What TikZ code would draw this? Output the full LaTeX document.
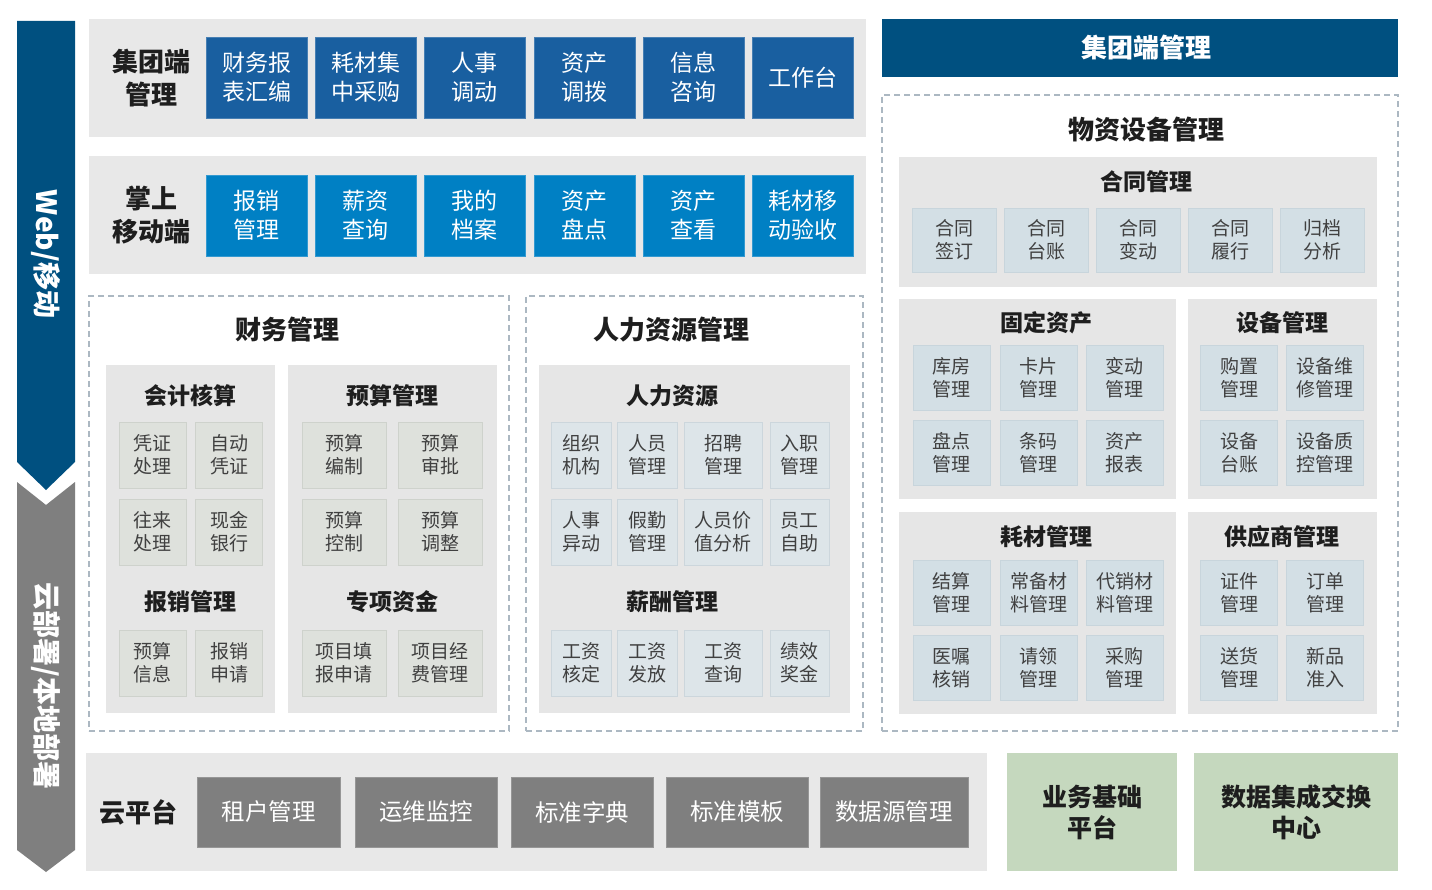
\documentclass[tikz,border=0pt]{standalone}
\usepackage{fontspec}
\setmainfont{Noto Sans CJK SC}
\definecolor{navyc}{RGB}{0,80,128}
\definecolor{blueAc}{RGB}{25,95,160}
\definecolor{blueBc}{RGB}{0,128,196}
\definecolor{bandc}{RGB}{232,232,232}
\definecolor{panelc}{RGB}{230,230,230}
\definecolor{fboxc}{RGB}{222,225,220}
\definecolor{fboxl}{RGB}{206,210,204}
\definecolor{hboxc}{RGB}{221,229,233}
\definecolor{hboxl}{RGB}{204,214,220}
\definecolor{rboxc}{RGB}{211,223,229}
\definecolor{rboxl}{RGB}{200,213,220}
\definecolor{dashc}{RGB}{172,184,194}
\definecolor{cloudc}{RGB}{127,127,127}
\definecolor{cloudl}{RGB}{150,150,150}
\definecolor{greenc}{RGB}{197,216,190}
\definecolor{txtc}{RGB}{30,30,30}
\definecolor{boxtxt}{RGB}{64,64,64}
\tikzset{
  panelbg/.style={rectangle, fill=panelc, draw=none, inner sep=0pt},
  bandbg/.style={rectangle, fill=bandc, draw=none, inner sep=0pt},
  dashbox/.style={rectangle, draw=dashc, line width=1.1pt, dash pattern=on 6pt off 4pt, inner sep=0pt},
  basebox/.style={rectangle, inner sep=0pt, align=center},
  topbox/.style={basebox, fill=blueAc, draw=blueAc!80!white, line width=0.8pt, text=white, font=\fontsize{23}{29}\selectfont, minimum width=101, minimum height=81},
  mobbox/.style={topbox, fill=blueBc, draw=blueBc!80!white},
  fbox/.style={basebox, fill=fboxc, draw=fboxl, line width=0.8pt, text=boxtxt, font=\fontsize{19}{23}\selectfont, minimum height=66},
  hbox/.style={fbox, fill=hboxc, draw=hboxl},
  rbox/.style={fbox, fill=rboxc, draw=rboxl, minimum height=65},
  cloudbox/.style={basebox, fill=cloudc, draw=cloudl, line width=0.8pt, text=white, font=\fontsize{23.5}{28}\selectfont, minimum height=70},
  greenbox/.style={basebox, fill=greenc, text=txtc, font=\bfseries\fontsize{25}{31}\selectfont},
  bigtitle/.style={text=txtc, font=\bfseries\fontsize{26}{33}\selectfont, align=center, inner sep=0pt},
  subtitle/.style={text=txtc, font=\bfseries\fontsize{23}{28}\selectfont, inner sep=0pt},
  sidetext/.style={rotate=-90, text=white, font=\bfseries\fontsize{28}{32}\selectfont, inner sep=0pt},
}
\begin{document}
\begin{tikzpicture}[x=1pt,y=-1pt]
\useasboundingbox (0,0) rectangle (1432,890);
\fill[white] (0,0) rectangle (1432,890);

% ---------- left arrows ----------
\fill[navyc] (17,21) -- (75,21) -- (75,462) -- (46,490) -- (17,462) -- cycle;
\fill[cloudc] (17,482) -- (46,505) -- (75,482) -- (75,850) -- (46,872) -- (17,850) -- cycle;
\node[sidetext] (web) at (46,254) {Web/移动};
\node[sidetext] (deploy) at (46,686) {云部署/本地部署};

% ---------- top bands ----------
\node[bandbg, minimum width=777, minimum height=118] (band1) at (477.5,78) {};
\node[bandbg, minimum width=777, minimum height=118] (band2) at (477.5,215) {};
\node[bigtitle] (lab1) at (151,78) {集团端\\管理};
\node[bigtitle] (lab2) at (151,215) {掌上\\移动端};
\foreach \x/\t [count=\i] in {206/{财务报\\表汇编},315/{耗材集\\中采购},424/{人事\\调动},534/{资产\\调拨},643/{信息\\咨询},752/{工作台}}
  \node[topbox] (t\i) at (\x+50.5,77.5) {\t};
\foreach \x/\t [count=\i] in {206/{报销\\管理},315/{薪资\\查询},424/{我的\\档案},534/{资产\\盘点},643/{资产\\查看},752/{耗材移\\动验收}}
  \node[mobbox] (m\i) at (\x+50.5,215.5) {\t};

% ---------- finance ----------
\node[dashbox, minimum width=420, minimum height=435] (fin) at (299,513.5) {};
\node[bigtitle] (fintitle) at (287,330) {财务管理};
\node[panelbg, minimum width=169, minimum height=348] (kj) at (190.5,539) {};
\node[panelbg, minimum width=209, minimum height=348] (ys) at (392.5,539) {};
\node[subtitle] (kjt) at (190,396) {会计核算};
\node[subtitle] (bxt) at (190,602) {报销管理};
\node[subtitle] (yst) at (392,396) {预算管理};
\node[subtitle] (zxt) at (392,602) {专项资金};
\foreach \x/\y/\t [count=\i] in {152.5/455/{凭证\\处理},229/455/{自动\\凭证},152.5/532/{往来\\处理},229/532/{现金\\银行},152.5/663/{预算\\信息},229/663/{报销\\申请}}
  \node[fbox, minimum width=67] (k\i) at (\x,\y) {\t};
\foreach \x/\y/\t [count=\i] in {344/455/{预算\\编制},440/455/{预算\\审批},344/532/{预算\\控制},440/532/{预算\\调整},344/663/{项目填\\报申请},440/663/{项目经\\费管理}}
  \node[fbox, minimum width=84] (y\i) at (\x,\y) {\t};

% ---------- HR ----------
\node[dashbox, minimum width=337, minimum height=435] (hr) at (694.5,513.5) {};
\node[bigtitle] (hrtitle) at (671,330) {人力资源管理};
\node[panelbg, minimum width=311, minimum height=348] (hrp) at (694.5,539) {};
\node[subtitle] (hrt) at (672,396) {人力资源};
\node[subtitle] (xct) at (672,602) {薪酬管理};
\foreach \x/\w/\ta/\tb/\tc [count=\i] in {581/60/{组织\\机构}/{人事\\异动}/{工资\\核定},647/60/{人员\\管理}/{假勤\\管理}/{工资\\发放},723/78/{招聘\\管理}/{人员价\\值分析}/{工资\\查询},799.5/59/{入职\\管理}/{员工\\自助}/{绩效\\奖金}}
{
  \node[hbox, minimum width=\w] (ha\i) at (\x,455) {\ta};
  \node[hbox, minimum width=\w] (hb\i) at (\x,532) {\tb};
  \node[hbox, minimum width=\w] (hc\i) at (\x,663) {\tc};
}

% ---------- right side ----------
\node[rectangle, fill=navyc, minimum width=516, minimum height=58, inner sep=0pt] (grp) at (1140,48) {};
\node[text=white, font=\bfseries\fontsize{26}{30}\selectfont, inner sep=0pt] (grpt) at (1146,48) {集团端管理};
\node[dashbox, minimum width=516, minimum height=636] (wz) at (1140,413) {};
\node[bigtitle] (wztitle) at (1146,130) {物资设备管理};
\node[panelbg, minimum width=478, minimum height=130] (ht) at (1138,222) {};
\node[subtitle] (htt) at (1146,182) {合同管理};
\foreach \x/\t [count=\i] in {954/{合同\\签订},1046/{合同\\台账},1138/{合同\\变动},1230/{合同\\履行},1322/{归档\\分析}}
  \node[rbox, minimum width=84, minimum height=64] (c\i) at (\x,240) {\t};

\node[panelbg, minimum width=277, minimum height=200] (gd) at (1037.5,399) {};
\node[panelbg, minimum width=189, minimum height=200] (sb) at (1282.5,399) {};
\node[panelbg, minimum width=277, minimum height=202] (hc) at (1037.5,613) {};
\node[panelbg, minimum width=189, minimum height=202] (gy) at (1282.5,613) {};
\node[subtitle] (gdt) at (1046,323) {固定资产};
\node[subtitle] (sbt) at (1282,323) {设备管理};
\node[subtitle] (hct) at (1046,537) {耗材管理};
\node[subtitle] (gyt) at (1282,537) {供应商管理};
\foreach \x/\ta/\tb/\tc/\td [count=\i] in {951.5/{库房\\管理}/{盘点\\管理}/{结算\\管理}/{医嘱\\核销},1038.5/{卡片\\管理}/{条码\\管理}/{常备材\\料管理}/{请领\\管理},1124.5/{变动\\管理}/{资产\\报表}/{代销材\\料管理}/{采购\\管理},1239/{购置\\管理}/{设备\\台账}/{证件\\管理}/{送货\\管理},1325/{设备维\\修管理}/{设备质\\控管理}/{订单\\管理}/{新品\\准入}}
{
  \node[rbox, minimum width=77] (ra\i) at (\x,378) {\ta};
  \node[rbox, minimum width=77] (rb\i) at (\x,453) {\tb};
  \node[rbox, minimum width=77] (rc\i) at (\x,593) {\tc};
  \node[rbox, minimum width=77] (rd\i) at (\x,668) {\td};
}

% ---------- bottom ----------
\node[bandbg, minimum width=901, minimum height=118] (cloud) at (536.5,812) {};
\node[bigtitle] (cloudt) at (138,812) {云平台};
\foreach \x/\w/\t [count=\i] in {268.5/143/租户管理,426/142/运维监控,582/142/标准字典,737/142/标准模板,894/148/数据源管理}
  \node[cloudbox, minimum width=\w] (cb\i) at (\x,812) {\t};
\node[greenbox, minimum width=170, minimum height=118] (ywjc) at (1092,812) {业务基础\\平台};
\node[greenbox, minimum width=204, minimum height=118] (sjjc) at (1296,812) {数据集成交换\\中心};
\end{tikzpicture}
\end{document}
